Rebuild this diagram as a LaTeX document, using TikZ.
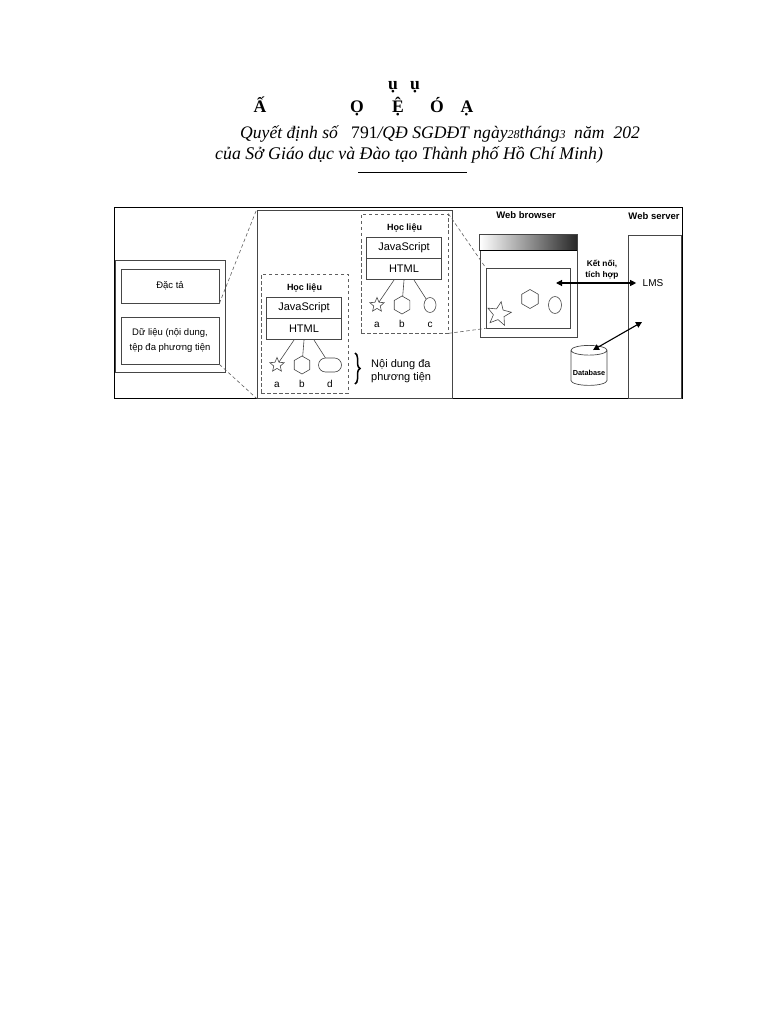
\documentclass[tikz,border=0pt]{standalone}
\usepackage{fontspec}
\setmainfont{Liberation Serif}
\setsansfont{Liberation Sans}
\usetikzlibrary{arrows.meta,positioning,calc,shapes.geometric,shapes.misc,decorations.pathreplacing}
\definecolor{lngray}{RGB}{70,70,70}
\definecolor{dshgray}{RGB}{95,95,95}
\newcommand{\ttlfont}{\fontsize{17.6}{20}\selectfont}
\newcommand{\smlfont}{\fontsize{12}{14}\selectfont}
\newcommand{\sfsz}[2]{\sffamily\fontsize{#1}{#2}\selectfont}
\newcommand{\hocblk}[3]{%
  \node[hlbox] (#1) at (43.5,59.5) {};
  \node[hltitle] (#1t) at (43.5,14) {Học liệu};
  \node[codebox] (#1js) at (43,33.5) {JavaScript};
  \node[codebox, below=0pt of #1js] (#1html) {HTML};
  \node[starshp] (#1a) at (16,91) {};
  \node[hexshp] (#1b) at (41,91) {};
  \node[#2] (#1c) at (69,91) {};
  \node[shplab] (#1la) at (16,113) {a};
  \node[shplab] (#1lb) at (41,113) {b};
  \node[shplab] (#1lc) at (69,113) {#3};
  \draw[tree] ($(#1html.south)+(-10,0)$) -- (#1a);
  \draw[tree] (#1html.south) -- (#1b);
  \draw[tree] ($(#1html.south)+(10,0)$) -- (#1c);}
\tikzset{
  hdbold/.style={font=\ttlfont\bfseries, inner sep=0pt, anchor=base},
  hdit/.style={font=\ttlfont\itshape, inner sep=0pt, anchor=base west},
  frm/.style={draw=black, line width=1pt},
  bx/.style={draw=lngray, line width=0.8pt, inner sep=0pt},
  hlbox/.style={draw=dshgray, line width=0.7pt, dash pattern=on 3.5pt off 2.5pt,
      minimum width=87pt, minimum height=119pt, inner sep=0pt},
  hltitle/.style={font=\sfsz{9}{10}\bfseries},
  codebox/.style={draw=lngray, line width=0.7pt, font=\sfsz{11}{12},
      minimum width=75pt, minimum height=21pt, inner sep=0pt},
  starshp/.style={star, star points=5, star point ratio=2.2, draw=lngray,
      line width=0.6pt, minimum size=15pt, inner sep=0pt},
  hexshp/.style={regular polygon, regular polygon sides=6, shape border rotate=30,
      draw=lngray, line width=0.6pt, minimum size=18pt, inner sep=0pt},
  pillshp/.style={rounded rectangle, draw=lngray, line width=0.6pt,
      minimum width=23pt, minimum height=14pt, inner sep=0pt},
  ovalshp/.style={ellipse, draw=lngray, line width=0.6pt,
      minimum width=12pt, minimum height=15pt, inner sep=0pt},
  shplab/.style={font=\sfsz{10}{11}, inner sep=0pt, anchor=base},
  tree/.style={draw=lngray, line width=0.6pt},
  zoomln/.style={draw=dshgray, line width=0.6pt, dash pattern=on 3.5pt off 2.5pt},
  dbl/.style={{Triangle[length=6pt,width=6pt]}-{Triangle[length=6pt,width=6pt]},
      line width=1.1pt},
  sflab/.style={font=\sfsz{9.5}{11}\bfseries},
  brc/.style={decorate, decoration={brace, amplitude=5pt}, line width=1.5pt},
  dbcyl/.style={cylinder, shape border rotate=90, aspect=0.3, draw=lngray,
      line width=0.7pt, minimum width=36pt, minimum height=40pt, inner sep=0pt,
      font=\sfsz{7.3}{8}\bfseries},
}
\begin{document}
\begin{tikzpicture}[x=1pt,y=-1pt]
\useasboundingbox (0,0) rectangle (768,1024);
% heading
\node[hdbold] (u1) at (393,90) {ụ};
\node[hdbold] (u2) at (415,90) {ụ};
\node[hdbold] (h1) at (260,113) {Ấ};
\node[hdbold] (h2) at (357,113) {Ọ};
\node[hdbold] (h3) at (398,113) {Ệ};
\node[hdbold] (h4) at (437,113) {Ó};
\node[hdbold] (h5) at (467,113) {Ạ};
\node[hdit] (ln2a) at (240,139) {Quyết định số};
\node[hdit] (ln2b) at (351,139) {{\upshape 791}/QĐ SGDĐT ngày{\smlfont 28}tháng{\smlfont 3}};
\node[hdit] (ln2c) at (574,139) {năm\hspace{9pt}202};
\node[hdit, font=\fontsize{17.8}{20}\selectfont\itshape] (ln3) at (215,160) {của Sở Giáo dục và Đào tạo Thành phố Hồ Chí Minh)};
\draw[line width=0.8pt] (358,172) -- (467,172);
% diagram frame
\draw[frm] (114,208) rectangle (682,398);
% specification
\node[bx, minimum width=110pt, minimum height=112pt] (spec) at (170,316) {};
\node[bx, minimum width=98pt, minimum height=34pt, font=\sfsz{9.5}{11}] (dacta) at (170,286) {Đặc tả};
\node[bx, minimum width=98pt, minimum height=47pt, font=\sfsz{9.5}{14.5}, align=center] (dulieu) at (170,340.5) {Dữ liệu (nội dung,\\tệp đa phương tiện};
% package
\node[bx, minimum width=195pt, minimum height=188pt] (mid) at (354.5,304) {};
\draw[zoomln] (dacta.south east) -- (mid.north west);
\draw[zoomln] (dulieu.south east) -- (mid.south west);
\begin{scope}[shift={(261,274)}]
  \hocblk{hlL}{pillshp}{d}
\end{scope}
\begin{scope}[shift={(361,214)}]
  \hocblk{hlR}{ovalshp}{c}
\end{scope}
\draw[brc] (355,353) -- (355,384);
\node[font=\sfsz{11}{13}, align=left, anchor=west, inner sep=0pt] (media) at (371,371.5) {Nội dung đa\\phương tiện};
% browser
\node[sflab] (brwl) at (526,215) {Web browser};
\node[bx, minimum width=97pt, minimum height=102pt] (brw) at (528.5,286) {};
\shade[left color=white, right color=black!85, draw=lngray, line width=0.8pt] (brw.north west) rectangle ($(brw.north east)+(0,16)$);
\draw[line width=1.5pt] ($(brw.north west)+(0,16)$) -- ($(brw.north east)+(0,16)$);
\node[bx, minimum width=84pt, minimum height=60pt] (scr) at (528,298) {};
\node[starshp, minimum size=25pt, shape border rotate=-10] (bs) at (499,314) {};
\node[hexshp, minimum size=19pt] (bh) at (530,299) {};
\node[ovalshp, minimum width=13pt, minimum height=17pt] (be) at (555,305) {};
\draw[zoomln] (hlR.north east) -- (scr.north west);
\draw[zoomln] (hlR.south east) -- (scr.south west);
% server
\node[sflab] (srvl) at (654,216) {Web server};
\node[bx, minimum width=53pt, minimum height=163pt] (srv) at (654.5,316.5) {};
\node[font=\sfsz{10}{11}] (lms) at (653,283) {LMS};
\node[font=\sfsz{8.3}{11}\bfseries, align=center] (ket) at (602,269.5) {Kết nối,\\tích hợp};
\coordinate (scrpt) at (556,283);
\draw[dbl, shorten >=3pt] (scrpt) -- (lms.west);
\node[dbcyl] (db) at (589,368) {\phantom{Database}};
\node[font=\sfsz{7.3}{8}\bfseries] (dbtxt) at ($(db.center)+(0,5)$) {Database};
\coordinate (srvpt) at (642,322);
\draw[dbl] ($(db.north)+(4,5)$) -- (srvpt);
\end{tikzpicture}
\end{document}
